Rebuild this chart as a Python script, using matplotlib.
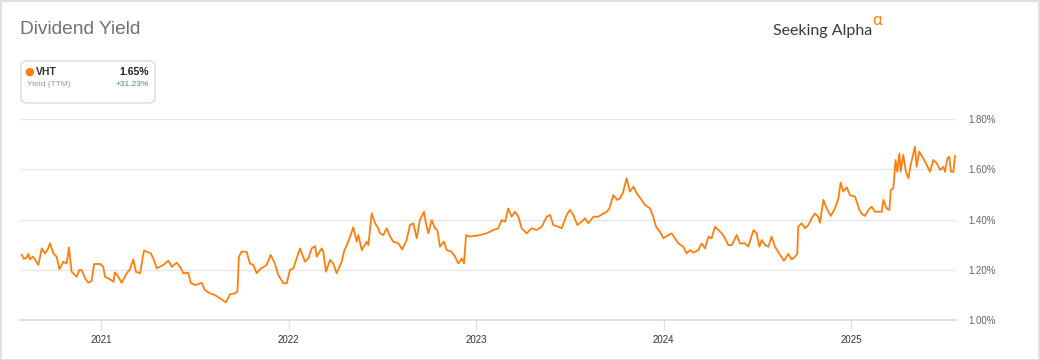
import matplotlib
matplotlib.use("Agg")
from matplotlib import pyplot as plt
from matplotlib.patches import FancyBboxPatch, Rectangle

plt.rcParams["font.family"] = ["Liberation Sans", "DejaVu Sans"]

# VHT trailing dividend yield (decimal year, percent)
years = [
    2020.577, 2020.589, 2020.604, 2020.612, 2020.621, 2020.636, 2020.648, 2020.666, 2020.684, 2020.701,
    2020.714, 2020.728, 2020.746, 2020.763, 2020.778, 2020.799, 2020.817, 2020.829, 2020.843, 2020.870,
    2020.884, 2020.897, 2020.915, 2020.932, 2020.950, 2020.963, 2020.995, 2021.012, 2021.021, 2021.048,
    2021.066, 2021.074, 2021.092, 2021.110, 2021.137, 2021.154, 2021.172, 2021.186, 2021.208, 2021.229,
    2021.243, 2021.265, 2021.279, 2021.297, 2021.314, 2021.332, 2021.359, 2021.377, 2021.403, 2021.421,
    2021.439, 2021.465, 2021.478, 2021.501, 2021.536, 2021.554, 2021.581, 2021.608, 2021.634, 2021.666,
    2021.688, 2021.714, 2021.727, 2021.735, 2021.750, 2021.776, 2021.794, 2021.812, 2021.830, 2021.847,
    2021.883, 2021.904, 2021.927, 2021.945, 2021.972, 2021.990, 2022.007, 2022.025, 2022.061, 2022.087,
    2022.105, 2022.123, 2022.141, 2022.150, 2022.176, 2022.185, 2022.199, 2022.221, 2022.238, 2022.256,
    2022.283, 2022.295, 2022.318, 2022.345, 2022.363, 2022.372, 2022.390, 2022.416, 2022.425, 2022.443,
    2022.461, 2022.478, 2022.487, 2022.505, 2022.523, 2022.541, 2022.558, 2022.585, 2022.606, 2022.629,
    2022.647, 2022.665, 2022.683, 2022.700, 2022.722, 2022.732, 2022.745, 2022.763, 2022.780, 2022.793,
    2022.807, 2022.828, 2022.843, 2022.869, 2022.887, 2022.905, 2022.923, 2022.935, 2022.946, 2022.967,
    2022.985, 2023.020, 2023.056, 2023.091, 2023.118, 2023.136, 2023.154, 2023.171, 2023.189, 2023.207,
    2023.225, 2023.242, 2023.269, 2023.296, 2023.322, 2023.349, 2023.376, 2023.394, 2023.411, 2023.438,
    2023.456, 2023.482, 2023.500, 2023.518, 2023.539, 2023.562, 2023.580, 2023.598, 2023.625, 2023.651,
    2023.678, 2023.696, 2023.710, 2023.731, 2023.752, 2023.767, 2023.784, 2023.802, 2023.820, 2023.838,
    2023.856, 2023.882, 2023.900, 2023.927, 2023.944, 2023.959, 2023.980, 2023.998, 2024.024, 2024.042,
    2024.060, 2024.078, 2024.104, 2024.122, 2024.140, 2024.158, 2024.184, 2024.202, 2024.220, 2024.238,
    2024.255, 2024.273, 2024.291, 2024.309, 2024.327, 2024.344, 2024.362, 2024.389, 2024.406, 2024.433,
    2024.451, 2024.478, 2024.495, 2024.510, 2024.522, 2024.540, 2024.558, 2024.575, 2024.593, 2024.620,
    2024.641, 2024.664, 2024.682, 2024.700, 2024.712, 2024.717, 2024.735, 2024.753, 2024.771, 2024.789,
    2024.806, 2024.824, 2024.833, 2024.851, 2024.869, 2024.890, 2024.913, 2024.931, 2024.943, 2024.957,
    2024.975, 2024.993, 2025.020, 2025.043, 2025.055, 2025.073, 2025.091, 2025.108, 2025.126, 2025.144,
    2025.162, 2025.171, 2025.188, 2025.203, 2025.210, 2025.224, 2025.236, 2025.245, 2025.256, 2025.263,
    2025.277, 2025.291, 2025.304, 2025.316, 2025.327, 2025.339, 2025.348, 2025.362, 2025.384, 2025.402,
    2025.419, 2025.437, 2025.455, 2025.473, 2025.491, 2025.499, 2025.512, 2025.522, 2025.531, 2025.544,
    2025.553,
]
yield_pct = [
    1.259, 1.243, 1.249, 1.263, 1.241, 1.252, 1.241, 1.219, 1.285, 1.265,
    1.278, 1.305, 1.265, 1.252, 1.202, 1.232, 1.225, 1.289, 1.192, 1.172,
    1.199, 1.199, 1.166, 1.148, 1.156, 1.223, 1.223, 1.212, 1.172, 1.162,
    1.152, 1.190, 1.172, 1.148, 1.186, 1.202, 1.241, 1.192, 1.186, 1.276,
    1.272, 1.265, 1.245, 1.206, 1.212, 1.219, 1.236, 1.212, 1.228, 1.212,
    1.186, 1.188, 1.148, 1.139, 1.148, 1.119, 1.106, 1.099, 1.086, 1.070,
    1.103, 1.106, 1.113, 1.252, 1.272, 1.272, 1.225, 1.219, 1.186, 1.202,
    1.219, 1.259, 1.225, 1.179, 1.146, 1.146, 1.199, 1.205, 1.285, 1.232,
    1.245, 1.285, 1.294, 1.252, 1.285, 1.272, 1.192, 1.239, 1.225, 1.186,
    1.232, 1.272, 1.312, 1.369, 1.312, 1.338, 1.278, 1.312, 1.298, 1.424,
    1.385, 1.365, 1.345, 1.338, 1.365, 1.332, 1.312, 1.305, 1.281, 1.318,
    1.378, 1.385, 1.325, 1.398, 1.431, 1.385, 1.345, 1.398, 1.365, 1.358,
    1.292, 1.312, 1.278, 1.272, 1.252, 1.225, 1.245, 1.225, 1.338, 1.332,
    1.334, 1.338, 1.345, 1.358, 1.365, 1.398, 1.391, 1.444, 1.411, 1.431,
    1.411, 1.365, 1.345, 1.365, 1.358, 1.371, 1.411, 1.418, 1.378, 1.371,
    1.365, 1.418, 1.438, 1.418, 1.378, 1.391, 1.405, 1.385, 1.411, 1.411,
    1.424, 1.431, 1.444, 1.497, 1.478, 1.484, 1.511, 1.564, 1.511, 1.531,
    1.504, 1.478, 1.458, 1.444, 1.411, 1.371, 1.351, 1.325, 1.338, 1.345,
    1.325, 1.305, 1.292, 1.265, 1.278, 1.268, 1.278, 1.305, 1.285, 1.332,
    1.325, 1.371, 1.358, 1.345, 1.325, 1.298, 1.298, 1.338, 1.305, 1.305,
    1.292, 1.358, 1.345, 1.292, 1.318, 1.298, 1.292, 1.332, 1.292, 1.259,
    1.236, 1.263, 1.241, 1.252, 1.265, 1.371, 1.385, 1.365, 1.378, 1.405,
    1.424, 1.411, 1.387, 1.478, 1.444, 1.414, 1.444, 1.484, 1.547, 1.511,
    1.528, 1.497, 1.491, 1.438, 1.424, 1.414, 1.438, 1.451, 1.431, 1.431,
    1.431, 1.478, 1.444, 1.438, 1.517, 1.524, 1.637, 1.590, 1.663, 1.590,
    1.657, 1.590, 1.564, 1.617, 1.650, 1.690, 1.610, 1.670, 1.643, 1.617,
    1.590, 1.637, 1.624, 1.597, 1.610, 1.590, 1.643, 1.650, 1.590, 1.590,
    1.653,
]
year_ticks = [2021, 2022, 2023, 2024, 2025]
y_ticks = [1.0, 1.2, 1.4, 1.6, 1.8]

orange = "#ff7f0e"
W, H = 1040, 360

fig = plt.figure(figsize=(W / 100, H / 100), dpi=100)
fig.patch.set_facecolor("white")

# outer frame
fig.add_artist(Rectangle((0.5 / W, 0.5 / H), 1 - 1.5 / W, 1 - 1.5 / H, transform=fig.transFigure,
                         fill=False, edgecolor="#d9d9d9", linewidth=1.2))

ax = fig.add_axes([20 / W, 1 - 320 / H, 936 / W, 201 / H])
ax.plot(years, yield_pct, color=orange, linewidth=1.3, solid_joinstyle="round")
ax.set_xlim(2020.568, 2025.558)
ax.set_ylim(1.0, 1.8)

ax.set_yticks(y_ticks)
ax.set_yticklabels([f"{v:.2f}%" for v in y_ticks])
ax.yaxis.tick_right()
ax.tick_params(axis="y", length=0, pad=9, labelsize=7, labelcolor="#666666")
ax.set_xticks(year_ticks)
ax.set_xticklabels([str(y) for y in year_ticks])
ax.tick_params(axis="x", length=7, width=1, color="#e0e0e0", pad=4, labelsize=7, labelcolor="#333333")

ax.grid(axis="y", color="#e6e6e6", linewidth=1)
for side in ["top", "right", "left"]:
    ax.spines[side].set_visible(False)
ax.spines["bottom"].set_color("#d9d9d9")
ax.spines["bottom"].set_linewidth(1.2)
ax.set_axisbelow(True)

# title
fig.text(20 / W, 1 - 30 / H, "Dividend Yield", fontsize=13.8, color="#707070", va="center", ha="left")

# legend card
fig.add_artist(FancyBboxPatch((21 / W, 1 - 103 / H), 134 / W, 42 / H, transform=fig.transFigure,
                              boxstyle="round,pad=0,rounding_size=0.008", facecolor="white",
                              edgecolor="#dcdcdc", linewidth=1))
fig.text(29 / W, 1 - 72 / H, "\u25CF", fontsize=8, color=orange, va="center", ha="center",
         family="DejaVu Sans")
fig.text(36 / W, 1 - 72 / H, "VHT", fontsize=7.5, fontweight="bold", color="#333333", va="center")
fig.text(149 / W, 1 - 72 / H, "1.65%", fontsize=7.5, fontweight="bold", color="#222222", va="center", ha="right")
fig.text(27 / W, 1 - 85 / H, "Yield (TTM)", fontsize=6, color="#999999", va="center")
fig.text(149 / W, 1 - 84 / H, "+31.23%", fontsize=6, color="#3c9a5f", va="center", ha="right")

# logo
fig.text(773 / W, 1 - 31 / H, "Seeking Alpha", fontsize=11.5, color="#3a3a3a", va="center", ha="left",
         family="Lato")
fig.text(872 / W, 1 - 20 / H, "\u03b1", fontsize=12, color=orange, va="center", ha="left",
         family="Lato")

fig.savefig("out.png", dpi=100, facecolor="white")
